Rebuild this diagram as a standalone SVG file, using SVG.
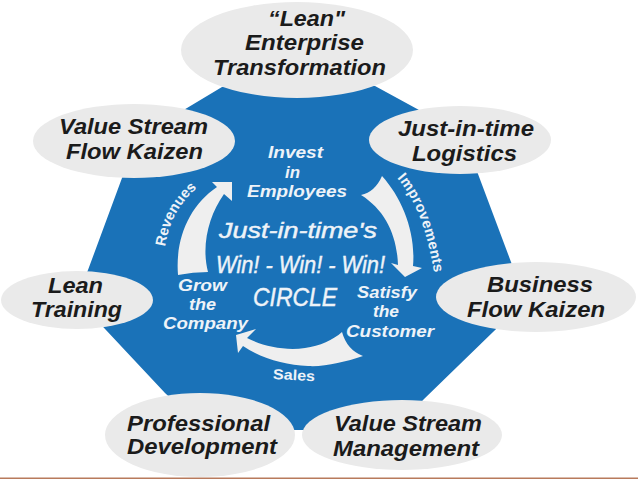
<svg xmlns="http://www.w3.org/2000/svg" width="638" height="479" viewBox="0 0 638 479">
<style>
.b{fill:#eaeaea}
.t{font-family:"Liberation Sans",Arial,sans-serif;font-weight:bold;font-style:italic;font-size:21.5px;fill:#1b1b1b}
.w{font-family:"Liberation Sans",Arial,sans-serif;font-weight:bold;font-style:italic;font-size:16px;fill:#eef3f8}
.c{font-family:"Liberation Sans",Arial,sans-serif;font-style:italic;fill:#eef3f8;stroke:#eef3f8;stroke-width:.45}
.l{font-family:"Liberation Sans",Arial,sans-serif;font-weight:bold;font-size:14.5px;fill:#eef3f8}
.a{fill:#efefef}
</style>
<defs>
<path id="rev" d="M165,247 Q171,207 202,184"/>
<path id="imp" d="M397,178 Q427,212 437,292"/>
</defs>
<rect width="638" height="479" fill="#fff"/>
<polygon id="panel" fill="#1a72b8" points="222,87 375,86 463,134 511,262 526,300 423,400 400,430 305,430 295,430 200,425 165,393 76,298 88,270 122,178 143,133 187,108"/>
<g id="connectors">
<path class="a" d="M178,275 C175,238 190,205 217,187 L212,182 L232,182 L232,201 L224,194 C209,215 201,245 208,272 Q193,272 178,275 Z"/>
<path class="a" d="M382,176 C402,198 416,232 413,266 L422,268 L405,277 L391,263 L398,265 C397,235 385,210 361,195 Q375,192 382,176 Z"/>
<path class="a" d="M342,332 Q347,350 363,356 C345,362 325,367 308,366 C285,365 262,359 243,346 L238,353 L236,335 L256,329 L247,338 C262,346 285,351 305,348 C320,346 333,340 342,332 Z"/>
</g>
<g id="node-center">
<text class="c" x="219" y="238" font-size="22.5" textLength="158" lengthAdjust="spacingAndGlyphs">Just-in-time's</text>
<text class="c" x="216" y="273" font-size="24.5" textLength="169" lengthAdjust="spacingAndGlyphs">Win! - Win! - Win!</text>
<text class="c" x="253" y="306" font-size="26" textLength="84" lengthAdjust="spacingAndGlyphs">CIRCLE</text>
</g>
<g id="node-invest">
<text class="w" x="268" y="158" textLength="55" lengthAdjust="spacingAndGlyphs">Invest</text>
<text class="w" x="285" y="178" textLength="15" lengthAdjust="spacingAndGlyphs">in</text>
<text class="w" x="247" y="197" textLength="100" lengthAdjust="spacingAndGlyphs">Employees</text>
</g>
<g id="node-grow">
<text class="w" x="178" y="291" textLength="49" lengthAdjust="spacingAndGlyphs">Grow</text>
<text class="w" x="189" y="310" textLength="27" lengthAdjust="spacingAndGlyphs">the</text>
<text class="w" x="163" y="329" textLength="85" lengthAdjust="spacingAndGlyphs">Company</text>
</g>
<g id="node-satisfy">
<text class="w" x="357" y="298" textLength="60" lengthAdjust="spacingAndGlyphs">Satisfy</text>
<text class="w" x="373" y="317" textLength="26" lengthAdjust="spacingAndGlyphs">the</text>
<text class="w" x="346" y="337" textLength="88" lengthAdjust="spacingAndGlyphs">Customer</text>
</g>
<g id="connector-labels">
<text class="l"><textPath href="#rev">Revenues</textPath></text>
<text class="l" letter-spacing=".35"><textPath href="#imp">Improvements</textPath></text>
<text class="l" x="273" y="380" textLength="42" lengthAdjust="spacingAndGlyphs" transform="rotate(3 294 376)">Sales</text>
</g>
<g id="node-lean-enterprise">
<ellipse class="b" cx="297" cy="50" rx="116" ry="48"/>
<text class="t" x="268" y="26" textLength="77" lengthAdjust="spacingAndGlyphs">“Lean"</text>
<text class="t" x="245" y="50" textLength="119" lengthAdjust="spacingAndGlyphs">Enterprise</text>
<text class="t" x="213" y="75" textLength="173" lengthAdjust="spacingAndGlyphs">Transformation</text>
</g>
<g id="node-vs-flow-kaizen">
<ellipse class="b" cx="134" cy="141" rx="101" ry="37"/>
<text class="t" x="59" y="134" textLength="149" lengthAdjust="spacingAndGlyphs">Value Stream</text>
<text class="t" x="66" y="159" textLength="137" lengthAdjust="spacingAndGlyphs">Flow Kaizen</text>
</g>
<g id="node-jit-logistics">
<ellipse class="b" cx="460" cy="140" rx="91" ry="34"/>
<text class="t" x="398" y="136" textLength="136" lengthAdjust="spacingAndGlyphs">Just-in-time</text>
<text class="t" x="412" y="161" textLength="105" lengthAdjust="spacingAndGlyphs">Logistics</text>
</g>
<g id="node-lean-training">
<ellipse class="b" cx="77" cy="300" rx="76" ry="29"/>
<text class="t" x="48" y="293" textLength="55" lengthAdjust="spacingAndGlyphs">Lean</text>
<text class="t" x="31" y="317" textLength="91" lengthAdjust="spacingAndGlyphs">Training</text>
</g>
<g id="node-business-flow-kaizen">
<ellipse class="b" cx="536" cy="297" rx="100" ry="35"/>
<text class="t" x="487" y="292" textLength="106" lengthAdjust="spacingAndGlyphs">Business</text>
<text class="t" x="467" y="317" textLength="138" lengthAdjust="spacingAndGlyphs">Flow Kaizen</text>
</g>
<g id="node-professional-development">
<ellipse class="b" cx="200" cy="435" rx="95" ry="42"/>
<text class="t" x="127" y="431" textLength="143" lengthAdjust="spacingAndGlyphs">Professional</text>
<text class="t" x="127" y="454" textLength="150" lengthAdjust="spacingAndGlyphs">Development</text>
</g>
<g id="node-value-stream-management">
<ellipse class="b" cx="402" cy="435" rx="100" ry="35"/>
<text class="t" x="334" y="431" textLength="148" lengthAdjust="spacingAndGlyphs">Value Stream</text>
<text class="t" x="333" y="456" textLength="146" lengthAdjust="spacingAndGlyphs">Management</text>
</g>
<rect x="0" y="477.5" width="638" height="1.5" fill="#b87a5c"/>
</svg>
